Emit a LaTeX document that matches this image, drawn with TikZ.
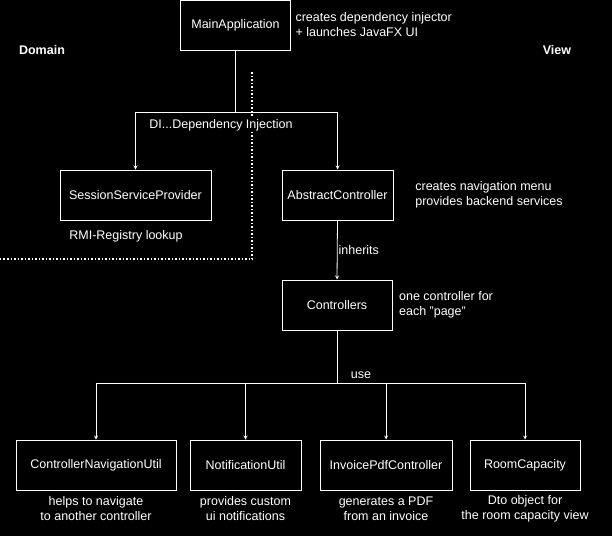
\documentclass[tikz,border=0pt]{standalone}
\usepackage{fontspec}
\setmainfont{Liberation Sans}
\begin{document}
\begin{tikzpicture}[x=1pt,y=-1pt,
  box/.style={draw=white,line width=1pt,minimum height=50pt,inner sep=0pt,text=white,font=\fontsize{12.5}{15}\selectfont},
  txt/.style={text=white,font=\fontsize{12.5}{15}\selectfont,align=center},
  con/.style={draw=white,line width=0.8pt},
  arr/.style={con,->,>=stealth}]
\fill[black] (0,0) rectangle (612,536);
\useasboundingbox (0,0) rectangle (612,536);
\node[box,minimum width=110pt] (main) at (235.5,25) {MainApplication};
\node[txt,align=left,anchor=west] (mainT) at (292,25) {creates dependency injector\\+ launches JavaFX UI};
\node[txt,font=\bfseries\fontsize{12.5}{15}\selectfont] (dom) at (42,50) {Domain};
\node[txt,font=\bfseries\fontsize{12.5}{15}\selectfont] (view) at (557,50) {View};
\coordinate (d1) at (252,72); \coordinate (d2) at (252,259); \coordinate (d3) at (0,259);
\draw[white,line width=1.5pt,dotted] (d1) -- (d2) -- (d3);
\node[box,minimum width=151pt] (ssp) at (135.5,195) {SessionServiceProvider};
\node[box,minimum width=111pt] (ac) at (337.5,195) {AbstractController};
\coordinate (j1) at (235.5,112);
\draw[con] (main.south) -- (j1);
\draw[arr] (j1) -| (ssp.north);
\draw[arr] (j1) -| (ac.north);
\node[txt,fill=black,inner sep=1pt] (di) at (221,125) {DI...Dependency Injection};
\node[txt] (rmi) at (126,236) {RMI-Registry lookup};
\node[txt,align=left] (acT) at (489,195) {creates navigation menu\\provides backend services};
\node[box,minimum width=110pt] (ctl) at (337,305) {Controllers};
\draw[arr] (ac.south) -- (ctl.north) node[pos=0.5,txt,right,fill=black,inner sep=1pt] (inh) {inherits};
\node[txt,align=left] (ctlT) at (446,305) {one controller for\\each "page"};
\node[box,minimum width=160pt] (b1) at (96,465) {ControllerNavigationUtil};
\node[box,minimum width=111pt] (b2) at (245.5,465) {NotificationUtil};
\node[box,minimum width=132pt] (b3) at (386,465) {InvoicePdfController};
\node[box,minimum width=110pt] (b4) at (525,465) {RoomCapacity};
\coordinate (j2) at (337,383);
\draw[con] (ctl.south) -- (j2);
\node[txt,fill=black,inner sep=1pt] (use) at (361,375) {use};
\foreach \b in {b1,b2,b3,b4} \draw[arr] (j2) -| (\b.north);
\node[txt] (t1) at (96,509) {helps to navigate\\to another controller};
\node[txt] (t2) at (245.5,509) {provides custom\\ui notifications};
\node[txt] (t3) at (386,509) {generates a PDF\\from an invoice};
\node[txt] (t4) at (525,509) {Dto object for\\the room capacity view};
\end{tikzpicture}
\end{document}
